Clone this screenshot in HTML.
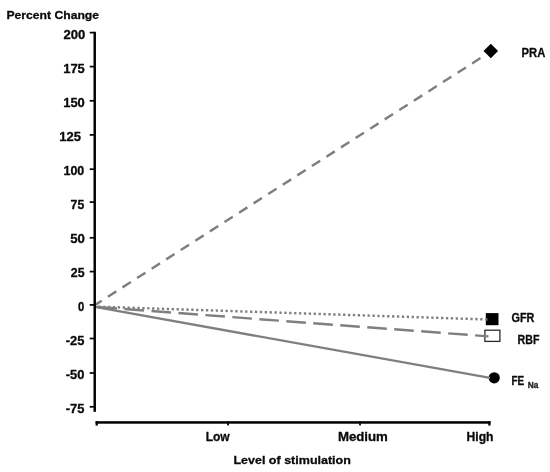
<!DOCTYPE html>
<html lang="en">
<head>
<meta charset="utf-8">
<title>Percent Change vs Level of stimulation</title>
<style>
html,body{margin:0;padding:0;background:#fff;}
body{width:550px;height:472px;overflow:hidden;}
svg{display:block;filter:blur(0.35px);}
text{font-family:"Liberation Sans",sans-serif;fill:#0a0a0a;stroke:#0a0a0a;stroke-width:0.3px;stroke-linejoin:round;}
#na{stroke-width:0.35px;fill:#222;stroke:#222;}
</style>
</head>
<body>
<svg width="550" height="472" viewBox="0 0 550 472">
<rect x="0" y="0" width="550" height="472" fill="#ffffff"/>
<!-- markers -->
<polygon points="490.8,43.8 498.1,51 490.8,58.2 483.5,51" fill="#000"/>
<rect x="485.8" y="313.1" width="12.7" height="12.1" fill="#000"/>
<rect x="484.9" y="330.2" width="15" height="11.2" fill="#fff" stroke="#2b2b2b" stroke-width="1.3"/>
<circle cx="494.2" cy="377.8" r="5.6" fill="#000"/>
<!-- data lines -->
<g fill="none" stroke="#7f7f7f" stroke-width="2.45">
<line x1="94.8" y1="305.1" x2="487" y2="53.9" stroke-dasharray="9.9 7.4" stroke-dashoffset="1.7"/>
<line x1="98.2" y1="306.7" x2="488" y2="319.5" stroke-dasharray="2.3 2.6"/>
<line x1="97.5" y1="307.0" x2="488.5" y2="336.4" stroke-dasharray="19.6 7.45"/>
<line x1="95" y1="306.9" x2="490" y2="377.9"/>
</g>
<!-- axes -->
<g fill="#000">
<rect x="93.5" y="31.8" width="2.45" height="380"/>
<rect x="89.7" y="31.75" width="5" height="1.7"/>
<rect x="89.7" y="65.75" width="5" height="1.7"/>
<rect x="89.7" y="99.95" width="5" height="1.7"/>
<rect x="89.7" y="134.05" width="5" height="1.7"/>
<rect x="89.7" y="168.35" width="5" height="1.7"/>
<rect x="89.7" y="201.25" width="5" height="1.7"/>
<rect x="89.7" y="236.95" width="5" height="1.7"/>
<rect x="89.7" y="270.75" width="5" height="1.7"/>
<rect x="89.7" y="304.05" width="5" height="1.7"/>
<rect x="89.7" y="337.65" width="5" height="1.7"/>
<rect x="89.7" y="372.15" width="5" height="1.7"/>
<rect x="89.7" y="405.95" width="5" height="1.7"/>
<rect x="95.6" y="421.2" width="394.9" height="2.5"/>
<rect x="95.6" y="421.2" width="2.2" height="4.4"/>
<rect x="227.2" y="421.2" width="1.8" height="4.2"/>
<rect x="359.1" y="421.2" width="1.8" height="4.2"/>
<rect x="488.3" y="421.2" width="2.2" height="4.4"/>
</g>
<!-- labels -->
<text id="title" x="6.48" y="19.40" font-size="11.8" font-weight="bold" textLength="92.61" lengthAdjust="spacingAndGlyphs">Percent Change</text>
<text id="y200" x="63.48" y="39.30" font-size="12.0" font-weight="bold" textLength="21.80" lengthAdjust="spacingAndGlyphs">200</text>
<text id="y175" x="63.20" y="72.80" font-size="12.0" font-weight="bold" textLength="21.60" lengthAdjust="spacingAndGlyphs">175</text>
<text id="y150" x="63.20" y="107.30" font-size="12.0" font-weight="bold" textLength="21.60" lengthAdjust="spacingAndGlyphs">150</text>
<text id="y125" x="59.20" y="141.20" font-size="12.0" font-weight="bold" textLength="21.70" lengthAdjust="spacingAndGlyphs">125</text>
<text id="y100" x="63.50" y="175.40" font-size="12.0" font-weight="bold" textLength="20.78" lengthAdjust="spacingAndGlyphs">100</text>
<text id="y75" x="70.60" y="208.90" font-size="12.0" font-weight="bold" textLength="13.58" lengthAdjust="spacingAndGlyphs">75</text>
<text id="y50" x="70.20" y="243.00" font-size="12.0" font-weight="bold" textLength="14.69" lengthAdjust="spacingAndGlyphs">50</text>
<text id="y25" x="70.84" y="277.10" font-size="12.0" font-weight="bold" textLength="13.77" lengthAdjust="spacingAndGlyphs">25</text>
<text id="y0" x="78.02" y="311.20" font-size="12.0" font-weight="bold" textLength="6.26" lengthAdjust="spacingAndGlyphs">0</text>
<text id="ym25" x="65.80" y="345.20" font-size="12.0" font-weight="bold" textLength="18.60" lengthAdjust="spacingAndGlyphs">-25</text>
<text id="ym50" x="65.80" y="379.20" font-size="12.0" font-weight="bold" textLength="18.60" lengthAdjust="spacingAndGlyphs">-50</text>
<text id="ym75" x="65.80" y="413.00" font-size="12.0" font-weight="bold" textLength="18.60" lengthAdjust="spacingAndGlyphs">-75</text>
<text id="low" x="205.66" y="441.35" font-size="12.2" font-weight="bold" textLength="24.02" lengthAdjust="spacingAndGlyphs">Low</text>
<text id="med" x="337.90" y="441.35" font-size="12.2" font-weight="bold" textLength="50.00" lengthAdjust="spacingAndGlyphs">Medium</text>
<text id="high" x="466.60" y="441.35" font-size="12.2" font-weight="bold" textLength="26.90" lengthAdjust="spacingAndGlyphs">High</text>
<text id="xl" x="233.40" y="463.60" font-size="11.8" font-weight="bold" textLength="117.50" lengthAdjust="spacingAndGlyphs">Level of stimulation</text>
<text id="pra" x="521.60" y="57.00" font-size="12.7" font-weight="bold" textLength="23.70" lengthAdjust="spacingAndGlyphs">PRA</text>
<text id="gfr" x="511.48" y="321.50" font-size="12.7" font-weight="bold" textLength="22.98" lengthAdjust="spacingAndGlyphs">GFR</text>
<text id="rbf" x="517.50" y="344.10" font-size="12.7" font-weight="bold" textLength="21.93" lengthAdjust="spacingAndGlyphs">RBF</text>
<text id="fe" x="511.40" y="385.00" font-size="12.7" font-weight="bold" textLength="12.70" lengthAdjust="spacingAndGlyphs">FE</text>
<text id="na" x="527.80" y="387.70" font-size="8.6" font-weight="bold" textLength="10.57" lengthAdjust="spacingAndGlyphs">Na</text>
</svg>
</body>
</html>
